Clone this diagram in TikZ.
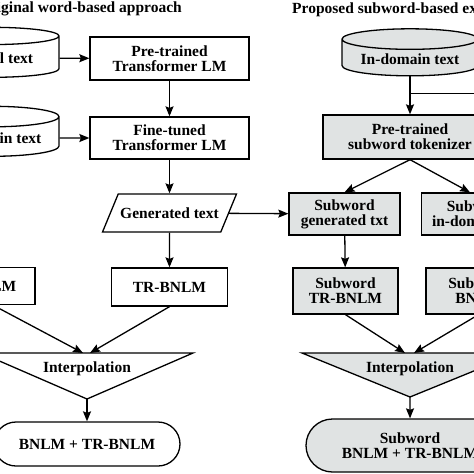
\documentclass[tikz,border=0pt]{standalone}
\usepackage{fontspec}
\setmainfont{Liberation Serif}
\usepackage{tikz}
\usetikzlibrary{shapes.geometric, shapes.misc, arrows.meta, positioning, calc}
\definecolor{boxgray}{RGB}{224,227,227}
\tikzstyle{procbox} = [rectangle, draw=black, line width=1.3pt, align=center, inner sep=2pt]
\tikzstyle{subbox} = [procbox, fill=boxgray]
\tikzstyle{database} = [cylinder, shape border rotate=90, aspect=0.2, draw=black, line width=1.3pt, align=center, inner sep=2pt]
\tikzstyle{iobox} = [trapezium, trapezium left angle=43.5, trapezium right angle=136.5, trapezium stretches body, draw=black, line width=1.3pt, inner sep=2pt]
\tikzstyle{terminal} = [rounded rectangle, draw=black, line width=1.3pt, align=center, inner sep=2pt]
\tikzstyle{merge} = [draw=black, line width=1.3pt, line join=miter]
\tikzstyle{line} = [line width=1.3pt]
\tikzstyle{arrow} = [line width=1.3pt, -{Stealth[length=10pt, width=8pt, inset=1.5pt]}]

\begin{document}
\begin{tikzpicture}[x=1pt, y=-1pt, node distance=77pt, font=\fontsize{15.5}{15}\selectfont\bfseries]
        \useasboundingbox (0,0) rectangle (474,474);
        \clip (0,0) rectangle (474,474);

        % titles
        \node (titleL) [anchor=base east, inner sep=0pt] at (182,12.5) {Original word-based approach};
        \node (titleR) [anchor=base west, inner sep=0pt] at (292,13.5) {Proposed subword-based extension};

        % word-based approach
        \node (general) [database, minimum width=134pt, minimum height=50pt] at (-8,58) {General text};
        \node (indomL) [database, minimum width=134pt, minimum height=50pt] at (-8,138) {In-domain text};
        \node (pretr) [procbox, minimum width=159pt, minimum height=43pt] at (169.5,58.5) {Pre-trained\\Transformer LM};
        \node (fine) [procbox, minimum width=159pt, minimum height=42pt, below of=pretr, yshift=-2.5pt] {Fine-tuned\\Transformer LM};
        \node (gen) [iobox, minimum height=38pt, below of=fine, yshift=2pt] {Generated text};
        \node (trbnlm) [procbox, minimum width=116pt, minimum height=38pt, below of=gen, yshift=3pt] {TR-BNLM};
        \node (bnlm) [procbox, minimum width=84pt, minimum height=37pt] at (-7,286) {BNLM};

        \coordinate (interpL) at (87,369);
        \coordinate (interpLtip) at ($(interpL)+(0,30)$);
        \coordinate (interpLinA) at ($(interpL)+(-4,-16)$);
        \coordinate (interpLinB) at ($(interpL)+(3,-16)$);
        \draw [merge] ($(interpL)+(-106,-16)$) -- ($(interpL)+(106,-16)$) -- (interpLtip) -- cycle;
        \node (interpLlbl) at (interpL) {Interpolation};
        \node (termL) [terminal, minimum width=190pt, minimum height=44pt] at (87,444) {BNLM + TR-BNLM};

        % subword-based extension
        \node (indomR) [database, fill=boxgray, minimum width=136pt, minimum height=47pt] at (410,59) {In-domain text};
        \node (tok) [subbox, minimum width=174pt, minimum height=44pt, below of=indomR, yshift=-1pt] {Pre-trained\\subword tokenizer};
        \node (subgen) [subbox, minimum width=111pt, minimum height=42pt] at (344.5,214) {Subword\\generated txt};
        \node (subin) [subbox, minimum width=111pt, minimum height=42pt] at (477,214) {Subword\\in-domain txt};
        \node (subtr) [subbox, minimum width=105pt, minimum height=46pt, below of=subgen, xshift=1pt] {Subword\\TR-BNLM};
        \node (subbn) [subbox, minimum width=105pt, minimum height=46pt, below of=subin, xshift=1.5pt] {Subword\\BNLM};

        \coordinate (interpR) at (410,369);
        \coordinate (interpRtip) at ($(interpR)+(0,28)$);
        \coordinate (interpRinA) at ($(interpR)+(-5,-16)$);
        \coordinate (interpRinB) at ($(interpR)+(4,-16)$);
        \draw [merge, fill=boxgray] ($(interpR)+(-108,-16)$) -- ($(interpR)+(108,-16)$) -- (interpRtip) -- cycle;
        \node (interpRlbl) at (interpR) {Interpolation};
        \node (termR) [terminal, fill=boxgray, minimum width=212pt, minimum height=53pt] at (410,445.5) {Subword\\BNLM + TR-BNLM};

        \coordinate (branchR) at ($(indomR.south)!0.45!(tok.north)$);
        \coordinate (offR) at (490,98);

        \draw [arrow] (general) -- (pretr);
        \draw [arrow] (indomL) -- (fine);
        \draw [arrow] (pretr) -- (fine);
        \draw [arrow] (fine) -- (gen);
        \draw [arrow] (gen) -- (trbnlm);
        \draw [arrow] (gen) -- (subgen);
        \draw [arrow] (bnlm.south) -- (interpLinA);
        \draw [arrow] (trbnlm.south) -- (interpLinB);
        \draw [arrow] (interpLtip) -- (termL);
        \draw [arrow] (indomR) -- (tok);
        \draw [line] (branchR) -- (branchR -| offR);
        \draw [arrow] (tok.south) -- (subgen.north);
        \draw [arrow] (tok.south) -- ([xshift=-7pt]subin.north);
        \draw [arrow] (subgen) -- (subtr);
        \draw [arrow] (subtr.south) -- (interpRinA);
        \draw [arrow] (subbn.south) -- (interpRinB);
        \draw [arrow] (interpRtip) -- (termR);

        \end{tikzpicture}
\end{document}
